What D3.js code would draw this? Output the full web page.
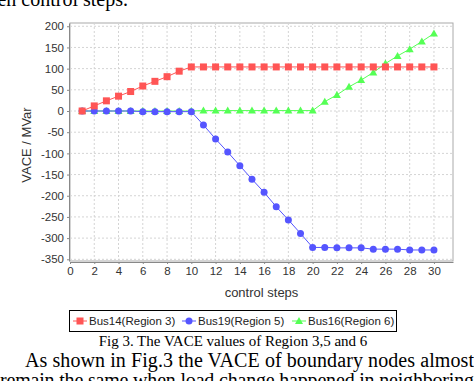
<!DOCTYPE html>
<html>
<head>
    <meta charset="utf-8">
    <style>
        body { margin: 0; background: #fff; }
        svg { display: block; }
    </style>
</head>
<body>
<script src="https://d3js.org/d3.v7.min.js"></script>
<script>
    // values
    var steps = d3.range(1, 31);
    var bus14 = [0, 12, 24, 35, 46, 59, 70, 81, 94, 104, 104, 104, 104, 104, 104,
                 104, 104, 104, 104, 104, 104, 104, 104, 104, 104, 104, 104, 104, 104, 104];
    var bus19 = [0, 0, 0, 0, 0, -1.5, -1.5, -1.5, -1.5, -1.5, -33, -66, -97, -129, -161,
                 -192, -226, -257, -289, -322, -322, -323, -323, -323, -326, -326, -326, -328, -328, -328];
    var bus16 = [0, 0, 0, 0, 0, 0, 0, 0, 0, 0, 1, 1, 1, 1, 1,
                 1, 1, 1, 1, 1, 22, 38, 57, 73, 91, 112, 130, 146, 164, 183];
    var seriesNames = ['Bus14(Region 3)', 'Bus19(Region 5)', 'Bus16(Region 6)'];
    var xTicks = d3.range(0, 31, 2);
    var yTicks = d3.range(-350, 201, 50);

    var W = 474, H = 381;
    var plot = { left: 70, right: 453, top: 23, bottom: 261 };
    var colors = ['#ff5555', '#5555ff', '#55ff55'];
    var sans = 'Liberation Sans, Arial, sans-serif';
    var serif = 'Liberation Serif, Times New Roman, serif';

    var svg = d3.select('body').append('svg')
        .attr('width', W)
        .attr('height', H);

    var x = d3.scaleLinear().domain([0, 31.57]).range([plot.left, plot.right]);
    var y = d3.scaleLinear().domain([-354, 207.7]).range([plot.bottom, plot.top]);

    // surrounding paper text
    svg.append('text')
        .attr('x', 128).attr('y', 6)
        .attr('text-anchor', 'end')
        .attr('font-family', serif).attr('font-size', 20)
        .text('between control steps.');

    // plot background + grid
    svg.append('rect')
        .attr('x', plot.left).attr('y', plot.top)
        .attr('width', plot.right - plot.left).attr('height', plot.bottom - plot.top)
        .attr('fill', '#fff').attr('stroke', '#aaa');

    svg.append('g').selectAll('line').data(xTicks.filter(function (d) { return d > 0; }))
        .enter().append('line')
        .attr('x1', function (d) { return x(d); }).attr('x2', function (d) { return x(d); })
        .attr('y1', plot.top).attr('y2', plot.bottom)
        .attr('stroke', '#d4d4d4').attr('stroke-dasharray', '2,2');

    svg.append('g').selectAll('line').data(yTicks)
        .enter().append('line')
        .attr('x1', plot.left).attr('x2', plot.right)
        .attr('y1', function (d) { return y(d); }).attr('y2', function (d) { return y(d); })
        .attr('stroke', '#d4d4d4').attr('stroke-dasharray', '2,2');

    // axes (plain hyphen for negatives, as in the figure)
    var fmt = function (d) { return String(d); };
    var xAxis = svg.append('g')
        .attr('transform', 'translate(0,' + (plot.bottom + 1) + ')')
        .call(d3.axisBottom(x).tickValues(xTicks).tickFormat(fmt).tickSize(2).tickPadding(3).tickSizeOuter(0));
    var yAxis = svg.append('g')
        .attr('transform', 'translate(' + (plot.left - 1) + ',0)')
        .call(d3.axisLeft(y).tickValues(yTicks).tickFormat(fmt).tickSize(2).tickPadding(3).tickSizeOuter(0));

    [xAxis, yAxis].forEach(function (a) {
        a.select('.domain').attr('stroke', '#888');
        a.selectAll('.tick line').attr('stroke', '#888');
        a.selectAll('text')
            .attr('font-family', sans).attr('font-size', 11.5).attr('fill', '#333');
    });

    svg.append('text')
        .attr('x', (plot.left + plot.right) / 2).attr('y', 297)
        .attr('text-anchor', 'middle')
        .attr('font-family', sans).attr('font-size', 13).attr('fill', '#333')
        .text('control steps');

    svg.append('text')
        .attr('transform', 'translate(31,' + ((plot.top + plot.bottom) / 2 + 3) + ') rotate(-90)')
        .attr('text-anchor', 'middle')
        .attr('font-family', sans).attr('font-size', 13).attr('fill', '#333')
        .text('VACE / MVar');

    // markers
    function marker(sel, i, cx, cy) {
        if (i === 0) {
            sel.append('rect').attr('x', cx - 3.5).attr('y', cy - 3.5)
                .attr('width', 7).attr('height', 7).attr('fill', colors[i]);
        } else if (i === 1) {
            sel.append('circle').attr('cx', cx).attr('cy', cy).attr('r', 3.5).attr('fill', colors[i]);
        } else {
            sel.append('path')
                .attr('d', 'M' + cx + ',' + (cy - 4) + 'L' + (cx + 4) + ',' + (cy + 3) + 'L' + (cx - 4) + ',' + (cy + 3) + 'Z')
                .attr('fill', colors[i]);
        }
    }

    var series = [bus14, bus19, bus16];
    var line = d3.line()
        .x(function (d, j) { return x(steps[j]); })
        .y(function (d) { return y(d); });

    // draw last series first so Bus14 ends on top
    [2, 1, 0].forEach(function (i) {
        var g = svg.append('g');
        g.append('path')
            .datum(series[i])
            .attr('d', line)
            .attr('fill', 'none')
            .attr('stroke', colors[i])
            .attr('stroke-width', 1);
        series[i].forEach(function (v, j) {
            marker(g, i, x(steps[j]), y(v));
        });
    });

    // legend
    var legend = svg.append('g');
    legend.append('rect')
        .attr('x', 69.5).attr('y', 310.5).attr('width', 327).attr('height', 21)
        .attr('fill', '#fff').attr('stroke', '#000');
    var legendX = [73, 182, 292];
    seriesNames.forEach(function (name, i) {
        var lx = legendX[i];
        legend.append('line')
            .attr('x1', lx).attr('x2', lx + 14).attr('y1', 321).attr('y2', 321)
            .attr('stroke', colors[i]);
        marker(legend, i, lx + 7, 321);
        legend.append('text')
            .attr('x', lx + 16).attr('y', 325)
            .attr('font-family', sans).attr('font-size', 11.5).attr('fill', '#222')
            .text(name);
    });

    // caption and body text
    svg.append('text')
        .attr('x', 233).attr('y', 346)
        .attr('text-anchor', 'middle')
        .attr('font-family', serif).attr('font-size', 15)
        .text('Fig 3. The VACE values of Region 3,5 and 6');

    svg.append('text')
        .attr('x', 25).attr('y', 367)
        .attr('textLength', 449).attr('lengthAdjust', 'spacing')
        .attr('font-family', serif).attr('font-size', 20)
        .text('As shown in Fig.3 the VACE of boundary nodes almost');

    svg.append('text')
        .attr('x', 0).attr('y', 387)
        .attr('textLength', 474).attr('lengthAdjust', 'spacing')
        .attr('font-family', serif).attr('font-size', 20)
        .text('remain the same when load change happened in neighboring');
</script>
</body>
</html>
